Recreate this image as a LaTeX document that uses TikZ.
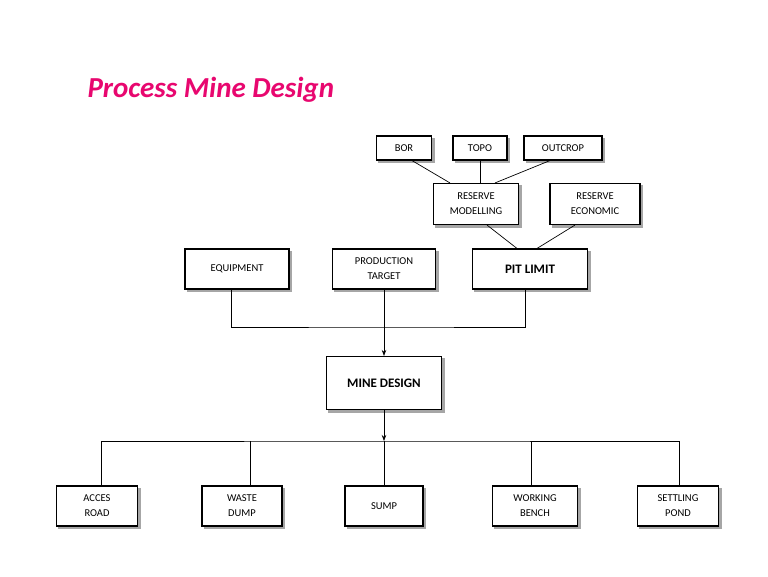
\documentclass[tikz,border=0pt]{standalone}
\usepackage{fontspec}
\setmainfont{Carlito}
\usetikzlibrary{arrows.meta}
\definecolor{titlepink}{HTML}{E8076F}
\tikzset{
 bx/.style={draw=black,line width=1.1pt,fill=white,align=center,inner sep=0pt,font=\fontsize{10.5}{15}\selectfont,
   preaction={draw=gray!70,fill=gray!70,line width=1.3pt,transform canvas={shift={(2.5pt,-2.5pt)}}}},
 ln/.style={draw=black,line width=0.7pt},
 ar/.style={ln,-{Stealth[length=6pt,width=4.5pt]}}
}
\begin{document}
\begin{tikzpicture}[x=1pt,y=-1pt]
\useasboundingbox[fill=white] (0,0) rectangle (768,576);
\node[anchor=west,text=titlepink,font=\fontsize{29}{34}\selectfont\bfseries\itshape] (title) at (84,90) {Process Mine Design};
\node[bx,minimum width=55pt,minimum height=24pt] (bor) at (404,148) {BOR};
\node[bx,minimum width=54pt,minimum height=24pt] (topo) at (480,148) {TOPO};
\node[bx,minimum width=78pt,minimum height=24pt] (out) at (563,148) {OUTCROP};
\node[bx,minimum width=85pt,minimum height=41pt] (rm) at (476,204) {RESERVE\\MODELLING};
\node[bx,minimum width=90pt,minimum height=41pt] (re) at (595,204) {RESERVE\\ECONOMIC};
\node[bx,minimum width=104pt,minimum height=40pt] (eq) at (237,269) {EQUIPMENT};
\node[bx,minimum width=103pt,minimum height=40pt] (pt) at (384,269) {PRODUCTION\\TARGET};
\node[bx,minimum width=115pt,minimum height=40pt,font=\fontsize{13}{15}\selectfont\bfseries] (pl) at (530,269) {PIT LIMIT};
\node[bx,minimum width=115pt,minimum height=53pt,font=\fontsize{13}{15}\selectfont\bfseries] (md) at (384,383) {MINE DESIGN};
\node[bx,minimum width=81pt,minimum height=40pt] (b1) at (97,506) {ACCES\\ROAD};
\node[bx,minimum width=80pt,minimum height=40pt] (b2) at (242,506) {WASTE\\DUMP};
\node[bx,minimum width=78pt,minimum height=40pt] (b3) at (384,506) {SUMP};
\node[bx,minimum width=85pt,minimum height=40pt] (b4) at (535,506) {WORKING\\BENCH};
\node[bx,minimum width=81pt,minimum height=40pt] (b5) at (678,506) {SETTLING\\POND};
\coordinate (j1) at (384,327);
\coordinate (j2) at (384,441);
% top tree
\draw[ln] ([xshift=8pt]bor.south) -- ([xshift=-26pt]rm.north);
\draw[ln] (topo.south) -- ([xshift=4pt]rm.north);
\draw[ln] ([xshift=-13pt]out.south) -- ([xshift=19pt]rm.north);
\draw[ln] ([xshift=11pt]rm.south) -- ([xshift=-13pt]pl.north);
\draw[ln] ([xshift=-20pt]re.south) -- ([xshift=7pt]pl.north);
% middle
\draw[ln] ([xshift=-6pt]eq.south) |- (j1) -| ([xshift=-5pt]pl.south);
\draw[ar] (pt.south) -- (md.north);
% bottom
\draw[ar] (md.south) -- (j2);
\draw[ln] ([xshift=4pt]b1.north) |- (j2) -| ([xshift=1pt]b5.north);
\draw[ln] ([xshift=8pt]b2.north) -- ([xshift=8pt]b2.north |- j2);
\draw[ln] (b3.north) -- (j2);
\draw[ln] ([xshift=-4pt]b4.north) -- ([xshift=-4pt]b4.north |- j2);
\end{tikzpicture}
\end{document}
